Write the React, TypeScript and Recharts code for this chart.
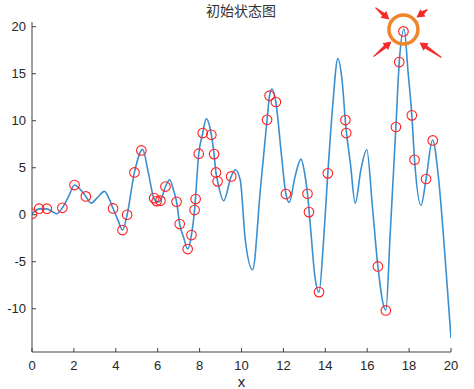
import {
  ComposedChart,
  Line,
  Scatter,
  XAxis,
  YAxis,
  ReferenceDot,
  Label,
} from "recharts";

// curve (blue line)
const curveX = [
  0, 0.35, 0.7, 1.0, 1.18, 1.45, 1.75, 2.03, 2.3, 2.57, 2.82, 3.1, 3.46, 3.7, 3.87, 4.1, 4.32, 4.54, 4.89,
  5.28, 5.55, 5.81, 6.0, 6.13, 6.37, 6.57, 6.75, 6.9, 7.05, 7.25, 7.43, 7.61, 7.76, 7.96, 8.15, 8.32, 8.56,
  8.69, 8.78, 8.86, 9.15, 9.51, 9.7, 9.94, 10.18, 10.53, 10.9, 11.22, 11.34, 11.45, 11.64, 11.9, 12.12, 12.28,
  12.55, 12.84, 13.0, 13.15, 13.3, 13.5, 13.7, 13.92, 14.12, 14.35, 14.6, 14.8, 14.98, 15.2, 15.43, 15.7,
  15.98, 16.25, 16.51, 16.89, 17.1, 17.37, 17.53, 17.76, 17.95, 18.13, 18.26, 18.57, 18.81, 19.12, 19.4,
  19.7, 20,
];
const curveY = [
  0.1, 0.62, 0.62, 0.3, 0.1, 0.74, 1.95, 3.16, 2.7, 1.95, 1.24, 1.77, 2.48, 1.6, 0.67, -0.55, -1.63, 0.0, 4.5,
  6.95, 4.5, 1.8, 1.35, 1.5, 3.0, 3.72, 2.66, 1.38, -0.99, -2.5, -3.65, -2.16, 0.5, 6.49, 8.69, 10.2, 8.51,
  6.45, 4.5, 3.55, 1.49, 4.08, 4.79, 3.7, -2.66, -5.85, 2.66, 10.1, 12.66, 13.37, 11.99, 6.5, 2.2, 1.31,
  4.0, 5.92, 4.6, 2.23, -1.5, -6.5, -8.23, -2.66, 4.4, 11.5, 16.6, 14.3, 9.4, 5.4, 1.24, 4.8,
  6.91, 0.85, -5.5, -10.18, -1.9, 9.33, 16.24, 19.75, 15.2, 10.57, 5.85, 0.99, 3.8, 7.95, 4.0,
  -4.0, -13.1,
];

// population (red circles)
const pointX = [
  0.0, 0.34, 0.71, 1.45, 2.03, 2.57, 3.87, 4.32, 4.54, 4.89, 5.22, 5.83, 5.95, 6.13, 6.37, 6.9, 7.05, 7.43,
  7.61, 7.76, 7.81, 7.96, 8.15, 8.56, 8.69, 8.78, 8.86, 9.51, 11.22, 11.34, 11.64, 12.12, 13.15, 13.22, 13.7,
  14.12, 14.96, 15.0, 16.51, 16.89, 17.37, 17.53, 17.73, 18.13, 18.26, 18.81, 19.13,
];
const pointY = [
  0.1, 0.64, 0.64, 0.74, 3.16, 1.95, 0.67, -1.63, 0.0, 4.5, 6.84, 1.77, 1.45, 1.5, 3.0, 1.38, -0.99, -3.65,
  -2.16, 0.5, 1.67, 6.49, 8.69, 8.51, 6.45, 4.5, 3.55, 4.08, 10.1, 12.66, 11.99, 2.2, 2.23, 0.28, -8.23,
  4.4, 10.07, 8.69, -5.5, -10.18, 9.33, 16.24, 19.5, 10.57, 5.85, 3.8, 7.9,
];

const xTicks = [0, 2, 4, 6, 8, 10, 12, 14, 16, 18, 20];
const yTicks = [-10, -5, 0, 5, 10, 15, 20];
const best = { x: 17.73, y: 19.7 };
const title = "初始状态图";

const curve = curveX.map((x, i) => ({ x, y: curveY[i] }));
const points = pointX.map((x, i) => ({ x, y: pointY[i] }));

const AXIS = "#404040";
const FONT = "Liberation Sans, Arial, sans-serif";
const tickFont = { fill: "#262626", fontSize: 13, fontFamily: FONT };

const RedCircle = (p: any) => (
  <circle cx={p.cx} cy={p.cy} r={4.8} fill="none" stroke="#ff1f1f" strokeWidth={1.1} />
);

function arrow(tx: number, ty: number, px: number, py: number) {
  const len = Math.hypot(px - tx, py - ty);
  const dx = (px - tx) / len;
  const dy = (py - ty) / len;
  const nx = -dy;
  const ny = dx;
  const hx = px - dx * 8;
  const hy = py - dy * 8;
  const pts = [
    [tx + nx * 0.5, ty + ny * 0.5],
    [hx + nx * 1.8, hy + ny * 1.8],
    [hx + nx * 4.5, hy + ny * 4.5],
    [px, py],
    [hx - nx * 4.5, hy - ny * 4.5],
    [hx - nx * 1.8, hy - ny * 1.8],
    [tx - nx * 0.5, ty - ny * 0.5],
  ];
  return pts.map((q) => q.join(",")).join(" ");
}

const Highlight = (p: any) => {
  const { cx, cy } = p;
  const arrows = [
    [-28, -22, -14, -10],
    [24, -20, 13, -12],
    [-30, 27, -12, 12],
    [38, 28, 16, 13],
  ];
  return (
    <g>
      <circle cx={cx} cy={cy} r={14.5} fill="none" stroke="#f0862a" strokeWidth={3.5} />
      {arrows.map((a, i) => (
        <polygon key={i} points={arrow(cx + a[0], cy + a[1], cx + a[2], cy + a[3])} fill="#f22a2a" />
      ))}
    </g>
  );
};

const noTick = () => <g />;

export default function App() {
  return (
    <div style={{ position: "absolute", left: 0, top: 0, width: 474, height: 389, background: "#fff" }}>
      <div
        style={{
          position: "absolute",
          left: 0,
          top: 1,
          width: 482,
          textAlign: "center",
          fontFamily: "Noto Sans CJK SC",
          fontSize: 14,
          lineHeight: "18px",
          color: "#333",
        }}
      >
        {title}
      </div>
      <ComposedChart width={474} height={389} margin={{ top: 22, right: 23, left: 0, bottom: 0 }}>
        <XAxis
          dataKey="x"
          type="number"
          domain={[0, 20]}
          ticks={xTicks}
          allowDataOverflow
          height={37}
          stroke={AXIS}
          tickSize={-4}
          tickMargin={13}
          tick={tickFont}
        >
          <Label value="x" position="insideBottom" offset={2} fill="#262626" fontSize={15} fontFamily={FONT} />
        </XAxis>
        <XAxis
          xAxisId="top"
          orientation="top"
          type="number"
          domain={[0, 20]}
          ticks={xTicks}
          height={0}
          stroke={AXIS}
          tickSize={-4}
          tick={noTick}
        />
        <YAxis
          type="number"
          domain={[-14.6, 20.5]}
          ticks={yTicks}
          allowDataOverflow
          width={32}
          stroke={AXIS}
          tickSize={-4}
          tickMargin={10}
          tick={tickFont}
        />
        <YAxis
          yAxisId="right"
          orientation="right"
          type="number"
          domain={[-14.6, 20.5]}
          ticks={yTicks}
          width={0}
          stroke={AXIS}
          tickSize={-4}
          tick={noTick}
        />
        <Line
          data={curve}
          dataKey="y"
          type="monotone"
          stroke="#3a8fd0"
          strokeWidth={1.6}
          dot={false}
          activeDot={false}
          isAnimationActive={false}
        />
        <Scatter data={points} dataKey="y" shape={RedCircle} isAnimationActive={false} />
        <ReferenceDot x={best.x} y={best.y} r={14} shape={Highlight} />
      </ComposedChart>
    </div>
  );
}
